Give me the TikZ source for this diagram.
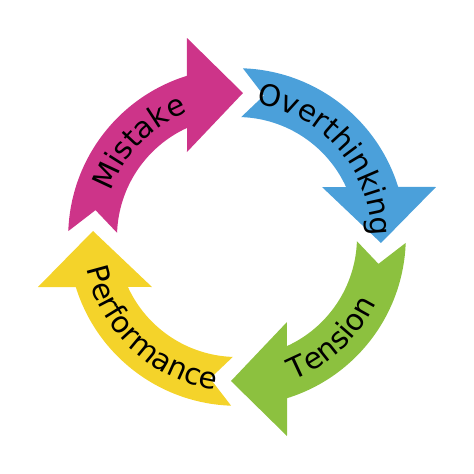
\documentclass[tikz,border=0pt]{standalone}
\usepackage{fontspec}
\setmainfont{DejaVu Sans}
\usetikzlibrary{decorations.text}
\definecolor{mistakecol}{HTML}{CD3489}
\definecolor{overcol}{HTML}{4BA0DA}
\definecolor{tensioncol}{HTML}{8CC13F}
\definecolor{perfcol}{HTML}{F4D32A}
\newcommand{\ringfont}{\fontsize{21}{25}\selectfont}

\begin{document}
\begin{tikzpicture}[
  ringarrow/.style={fill=#1, draw=none},
  arclabel/.style={decorate,
    decoration={text along path, text align=center, text={|\ringfont|#1}}},
]
\useasboundingbox (-5.925,-5.925) rectangle (5.925,5.925);
\coordinate (hub) at (0,0);

% ---------------------------------------------------- the four arrows
% one arrow (tail at the left, head at the top), turned a quarter each time
\foreach \rot/\col in {0/mistakecol, -90/overcol, -180/tensioncol, 90/perfcol} {
  \path[ringarrow=\col, rotate=\rot]
    (178:4.22) arc[start angle=178, end angle=107.3, radius=4.22]
    -- (-1.25,4.975) -- (0.15,3.6) -- (-1.25,2.125)
    -- (114.6:3.0) arc[start angle=114.6, end angle=178, radius=3.0]
    -- (169.25:3.6) -- cycle;
}

% ---------------------------------------------------- labels on the ring
% upper half reads clockwise, lower half counter-clockwise
\path[arclabel=Mistake] ([shift={(hub)}]186:3.35)
  arc[start angle=186, end angle=86, radius=3.35];
\path[arclabel=Overthinking] ([shift={(hub)}]96:3.35)
  arc[start angle=96, end angle=-14, radius=3.35];
\path[arclabel=Tension] ([shift={(hub)}]-102:3.85)
  arc[start angle=-102, end angle=8, radius=3.85];
\path[arclabel=Performance] ([shift={(hub)}]-188:3.85)
  arc[start angle=-188, end angle=-78, radius=3.85];

\end{tikzpicture}
\end{document}
